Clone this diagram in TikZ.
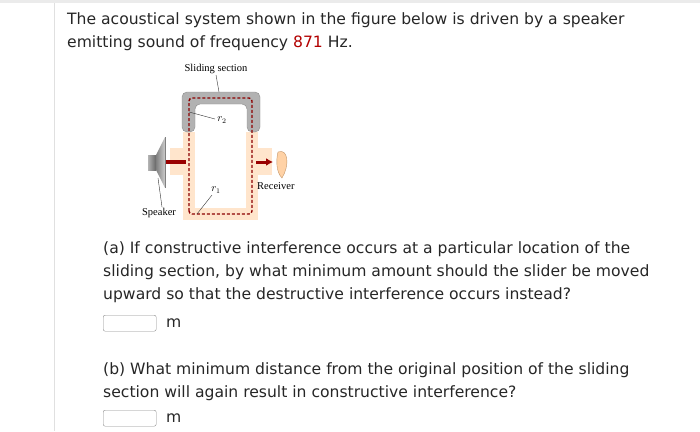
\documentclass[tikz,border=0pt]{standalone}
\usepackage{fontspec}
\usetikzlibrary{arrows.meta}
\setmainfont{DejaVu Sans}
\newfontfamily\figfont{Liberation Serif}
\begin{document}
\begin{tikzpicture}[x=1pt,y=-1pt,
  txt/.style={anchor=base west,inner sep=0pt,font=\fontsize{15.6}{18}\selectfont,text=black!85},
  lab/.style={inner sep=0pt,font=\figfont\fontsize{10.5}{12}\selectfont},
  ansbox/.style={draw=black!45,rounded corners=2pt,minimum width=53pt,minimum height=16pt,inner sep=0pt},
  tube/.style={fill=orange!20!white},
  gray tube/.style={fill=black!30,draw=black!45},
  path/.style={draw=red!55!black,line width=1.4pt,dash pattern=on 3pt off 2pt}]
\useasboundingbox (0,0) rectangle (700,431);
\fill[black!8] (0,0) rectangle (700,3);
\draw[black!12] (54.5,3) -- (54.5,431);
\node[txt] (t1) at (67,24) {The acoustical system shown in the figure below is driven by a speaker};
\node[txt] (t2) at (67,47) {emitting sound of frequency \textcolor{red!70!black}{871} Hz.};
% tubes
\fill[tube] (183,132) rectangle (195,220);
\fill[tube] (246,132) rectangle (258,220);
\fill[tube] (183,208) rectangle (258,220);
\fill[tube] (170,148) rectangle (183,175);
\fill[tube] (258,148) rectangle (272,175);
\path[gray tube,rounded corners=5pt] (182,132) -- (182,92) -- (260,92) -- (260,132) -- (247,132) -- (247,104) -- (195,104) -- (195,132) -- cycle;
\draw[path,rounded corners=3pt] (189,214) -- (189,98) -- (252,98) -- (252,214) -- cycle;
% speaker
\shade[left color=black!30,right color=black!60] (148,155) rectangle (156,170);
\shade[left color=black!50,right color=black!20] (156,155) -- (165,137) -- (165,188) -- (156,170) -- cycle;
\draw[black!50] (165,137) -- (165,188);
% arrows
\draw[red!60!black,line width=3.5pt] (166,162) -- (186,162);
\draw[red!60!black,line width=3pt,-{Latex[length=7pt,width=8pt]}] (256,162) -- (273,162);
% ear
\fill[orange!35!white,draw=orange!60!black!60] (278,152) .. controls (288,148) and (290,165) .. (282,178) .. controls (276,172) and (276,160) .. (278,152);
% labels
\node[lab] (slide) at (216,69) {Sliding section};
\draw[black!80,thin] (216,75) -- (219,92);
\node[lab] (r2) at (222,120) {$r_2$};
\draw[black!80,thin] (189,112) -- (215,119);
\node[lab] (r1) at (216,190) {$r_1$};
\draw[black!80,thin] (197,214) -- (212,195);
\node[lab,anchor=west] (rec) at (257,186) {Receiver};
\node[lab] (spk) at (159,213) {Speaker};
\draw[black!80,thin] (162,207) -- (158,178);
% questions
\node[txt] (a1) at (103,253) {(a) If constructive interference occurs at a particular location of the};
\node[txt] (a2) at (103,276) {sliding section, by what minimum amount should the slider be moved};
\node[txt] (a3) at (103,299) {upward so that the destructive interference occurs instead?};
\node[ansbox,anchor=north west] (b1) at (103,315) {};
\node[txt] (m1) at (166,327) {m};
\node[txt] (b1t) at (103,374) {(b) What minimum distance from the original position of the sliding};
\node[txt] (b2t) at (103,397) {section will again result in constructive interference?};
\node[ansbox,anchor=north west] (b2) at (103,410) {};
\node[txt] (m2) at (166,422) {m};
\end{tikzpicture}
\end{document}
